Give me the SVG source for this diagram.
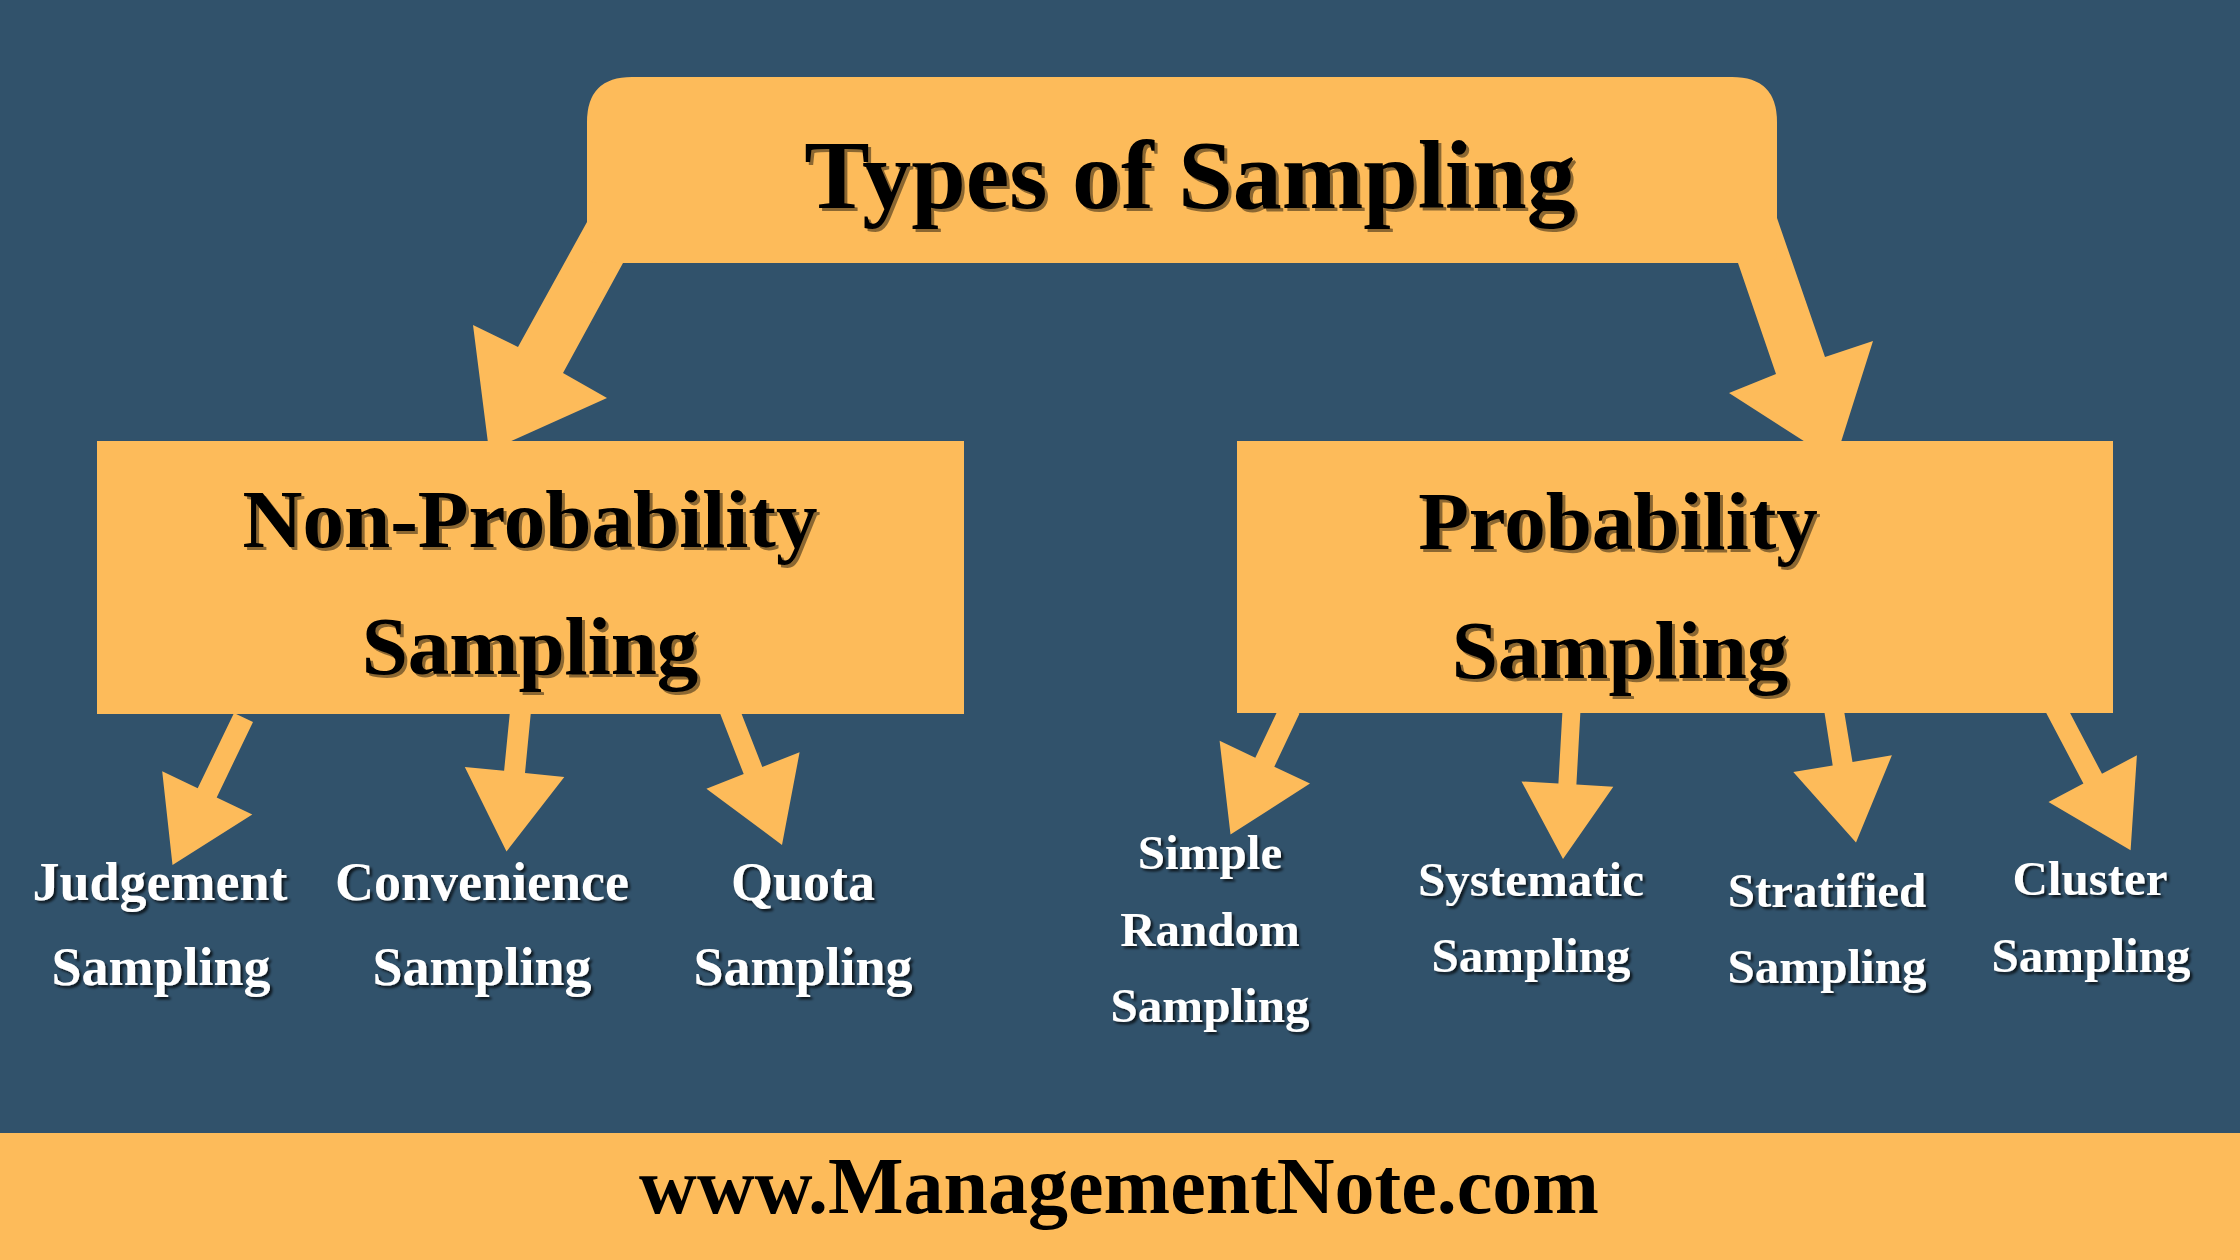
<svg xmlns="http://www.w3.org/2000/svg" width="2240" height="1260" viewBox="0 0 2240 1260">
  <defs>
    <filter id="shDark" x="-5%" y="-10%" width="115%" height="140%">
      <feDropShadow dx="3" dy="3" stdDeviation="0.6" flood-color="#000" flood-opacity="0.45"/>
    </filter>
    <filter id="shLight" x="-5%" y="-10%" width="115%" height="140%">
      <feDropShadow dx="2.5" dy="2.5" stdDeviation="0.8" flood-color="#000" flood-opacity="0.7"/>
    </filter>
    <style>
      .bg { fill: #31526b; }
      .or { fill: #fdbb5a; }
      .t { font-family: "Liberation Serif", "Times New Roman", serif; font-weight: bold; text-anchor: middle; }
      .head { fill: #000; filter: url(#shDark); }
      .lbl { fill: #fff; filter: url(#shLight); }
    </style>
  </defs>

  <rect class="bg" x="0" y="0" width="2240" height="1260"/>

  <g id="connectors" class="or">
    <!-- big arrows from title -->
    <polygon points="587,222 518,347 473,325 489,451 607,398 563,373 623,263 660,263 660,222"/>
    <polygon points="1777,218 1825,357 1873,341 1835,461 1729,393 1776,374 1738,263 1700,263 1700,218"/>
    <!-- small arrows, left group -->
    <polygon points="234,713 197.7,788.3 162.2,771.2 172.5,865 252.3,814.6 216.7,797.4 253,722"/>
    <polygon points="510,711 504.1,770.8 464.8,766.9 506.5,851.5 564.3,776.9 525,773 531,711"/>
    <polygon points="719.7,712.6 743.7,774.1 706.4,788.7 782,845 799.6,752.3 762.3,766.9 738.3,705.4"/>
    <!-- small arrows, right group -->
    <polygon points="1280.5,704.5 1255.3,757.7 1219.6,740.8 1230.5,834.5 1310,783.6 1274.3,766.7 1299.5,713.5"/>
    <polygon points="1562.5,710 1558.4,783.6 1521.5,781.4 1563,859 1613.3,786.8 1576.4,784.6 1580.5,710"/>
    <polygon points="1824.1,710 1832.7,765.4 1793.3,772.1 1856,842.5 1891.9,755.3 1852.5,762 1843.9,710"/>
    <polygon points="2045.7,711.9 2083.4,783.6 2048.5,802.1 2130.6,850.3 2136.9,755.3 2102,773.8 2064.3,702.1"/>
  </g>

  <g id="node-title">
    <path class="or" d="M587,263 L587,122 Q587,77 632,77 L1732,77 Q1777,77 1777,122 L1777,253 Q1777,263 1767,263 L597,263 Q587,263 587,253 Z"/>
    <text class="t head" x="1190" y="208" font-size="98">Types of Sampling</text>
  </g>

  <g id="node-nonprob">
    <rect class="or" x="97" y="441" width="867" height="273"/>
    <text class="t head" x="530" y="547" font-size="83">Non-Probability</text>
    <text class="t head" x="530" y="674" font-size="83">Sampling</text>
  </g>

  <g id="node-prob">
    <rect class="or" x="1237" y="441" width="876" height="272"/>
    <text class="t head" x="1618" y="549" font-size="83">Probability</text>
    <text class="t head" x="1620" y="678" font-size="83">Sampling</text>
  </g>

  <g id="node-judgement">
    <text class="t lbl" x="160" y="900" font-size="54">Judgement</text>
    <text class="t lbl" x="161" y="985" font-size="54">Sampling</text>
  </g>
  <g id="node-convenience">
    <text class="t lbl" x="482" y="900" font-size="54">Convenience</text>
    <text class="t lbl" x="482" y="985" font-size="54">Sampling</text>
  </g>
  <g id="node-quota">
    <text class="t lbl" x="803" y="900" font-size="54">Quota</text>
    <text class="t lbl" x="803" y="985" font-size="54">Sampling</text>
  </g>

  <g id="node-simple-random">
    <text class="t lbl" x="1210" y="869" font-size="49">Simple</text>
    <text class="t lbl" x="1210" y="946" font-size="49">Random</text>
    <text class="t lbl" x="1210" y="1022" font-size="49">Sampling</text>
  </g>
  <g id="node-systematic">
    <text class="t lbl" x="1531" y="896" font-size="49">Systematic</text>
    <text class="t lbl" x="1531" y="972" font-size="49">Sampling</text>
  </g>
  <g id="node-stratified">
    <text class="t lbl" x="1827" y="907" font-size="49">Stratified</text>
    <text class="t lbl" x="1827" y="983" font-size="49">Sampling</text>
  </g>
  <g id="node-cluster">
    <text class="t lbl" x="2090" y="895" font-size="49">Cluster</text>
    <text class="t lbl" x="2091" y="972" font-size="49">Sampling</text>
  </g>

  <g id="footer">
    <rect class="or" x="0" y="1133" width="2240" height="127"/>
    <text class="t" x="1119" y="1213" font-size="80" fill="#000">www.ManagementNote.com</text>
  </g>
</svg>
